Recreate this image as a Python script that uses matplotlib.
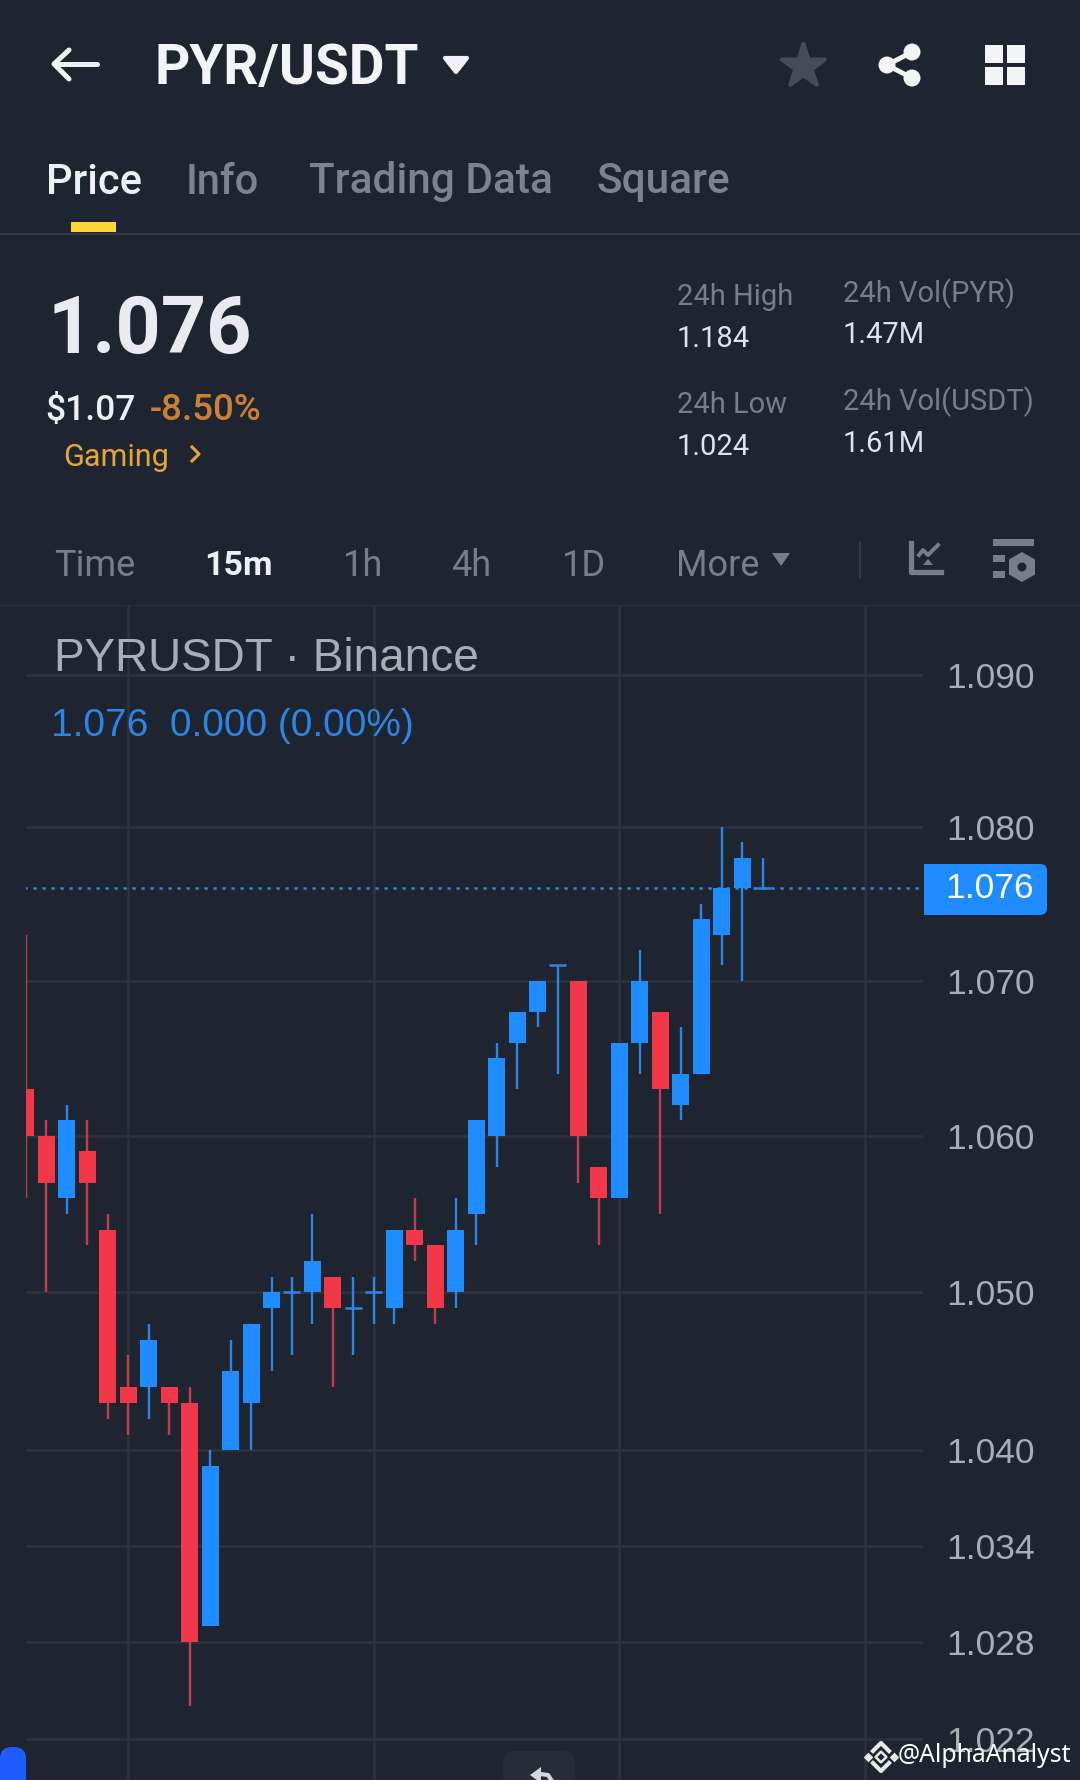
import numpy as np
import matplotlib
matplotlib.use("Agg")
import matplotlib.pyplot as plt
from matplotlib.patches import Polygon, Rectangle, Circle, FancyBboxPatch, RegularPolygon

# candles, oldest first (15m PYR/USDT)
opens = [1.063, 1.060, 1.056, 1.059, 1.054, 1.044, 1.044, 1.044, 1.043, 1.029,
         1.040, 1.043, 1.049, 1.050, 1.050, 1.051, 1.049, 1.050, 1.049, 1.054,
         1.053, 1.050, 1.055, 1.060, 1.066, 1.068, 1.071, 1.070, 1.058, 1.056,
         1.066, 1.068, 1.062, 1.064, 1.073, 1.076, 1.076]
highs = [1.073, 1.061, 1.062, 1.061, 1.055, 1.046, 1.048, 1.044, 1.044, 1.040,
         1.047, 1.048, 1.051, 1.051, 1.055, 1.051, 1.051, 1.051, 1.054, 1.056,
         1.053, 1.056, 1.061, 1.066, 1.068, 1.070, 1.071, 1.070, 1.058, 1.066,
         1.072, 1.068, 1.067, 1.075, 1.080, 1.079, 1.078]
lows = [1.056, 1.050, 1.055, 1.053, 1.042, 1.041, 1.042, 1.041, 1.024, 1.029,
        1.040, 1.040, 1.045, 1.046, 1.048, 1.044, 1.046, 1.048, 1.048, 1.052,
        1.048, 1.049, 1.053, 1.058, 1.063, 1.067, 1.064, 1.057, 1.053, 1.056,
        1.064, 1.055, 1.061, 1.064, 1.071, 1.070, 1.076]
closes = [1.060, 1.057, 1.061, 1.057, 1.043, 1.043, 1.047, 1.043, 1.028, 1.039,
          1.045, 1.048, 1.050, 1.050, 1.052, 1.049, 1.049, 1.050, 1.054, 1.053,
          1.049, 1.054, 1.061, 1.065, 1.068, 1.070, 1.071, 1.060, 1.056, 1.066,
          1.070, 1.063, 1.064, 1.074, 1.076, 1.078, 1.076]
price_ticks = [1.022, 1.028, 1.034, 1.040, 1.050, 1.060, 1.070, 1.080, 1.090]
price_labels = ["1.022", "1.028", "1.034", "1.040", "1.050", "1.060", "1.070", "1.080", "1.090"]
time_grid = [5, 17, 29, 41]
last_price = 1.076

BG = "#1e2530"
GRID = "#2d333d"
UP = "#1e8cff"
DOWN = "#f23749"
UP_WICK = "#2c85e4"
DOWN_WICK = "#c23c50"
W, H = 1080, 1780
UI = ["Roboto", "DejaVu Sans"]
CHART = ["Liberation Sans", "DejaVu Sans"]

fig = plt.figure(figsize=(W / 100, H / 100), dpi=100, facecolor=BG)


def px_axes(left, top, right, bottom):
    return fig.add_axes([left / W, 1 - bottom / H, (right - left) / W, (bottom - top) / H])


# Chart area
# ==========
ax = px_axes(26, 606, 923, 1780)
ax.set_facecolor("none")
ax.set_yscale("log")
x = np.arange(len(opens))
o, h, l, c = map(np.asarray, (opens, highs, lows, closes))
up = c >= o
ax.grid(True, color=GRID, lw=1.8, zorder=0)
ax.set_axisbelow(True)
ax.vlines(x[up], l[up], h[up], color=UP_WICK, lw=1.7, zorder=3)
ax.vlines(x[~up], l[~up], h[~up], color=DOWN_WICK, lw=1.7, zorder=3)
ax.bar(x[up], np.abs(c - o)[up], bottom=np.minimum(o, c)[up], width=0.83, color=UP, zorder=4)
ax.bar(x[~up], np.abs(c - o)[~up], bottom=np.minimum(o, c)[~up], width=0.83, color=DOWN, zorder=4)
doji = c == o
ax.hlines(c[doji], x[doji] - 0.415, x[doji] + 0.415, color=UP_WICK, lw=1.8, zorder=4)
ax.plot([-1, 43.84], [last_price, last_price], color=UP_WICK, lw=1.8,
        linestyle=(0, (1.3, 2.3)), zorder=2)
ax.set_xlim(0, 43.84)
ax.set_ylim(1.01945, 1.09456)
ax.set_xticks(time_grid)
ax.set_yticks(price_ticks, price_labels)
ax.minorticks_off()
ax.yaxis.tick_right()
ax.tick_params(axis="x", length=0, labelbottom=False)
ax.tick_params(axis="y", length=0, pad=17, labelsize=25.5, labelcolor="#a9aeb5")
for lab in ax.get_yticklabels():
    lab.set_family(CHART)
for s in ax.spines.values():
    s.set_visible(False)

# Everything around the chart is laid out in pixels
# =================================================
ov = px_axes(0, 0, W, H)
ov.set_xlim(0, W)
ov.set_ylim(H, 0)
ov.axis("off")
ov.patch.set_alpha(0)


def txt(px, py, s, size, color, weight="normal", family=UI, ha="left", zorder=6):
    ov.text(px, py, s, fontsize=size, color=color, fontweight=weight, family=family,
            ha=ha, va="center", zorder=zorder)


# top bar
ov.plot([56, 97], [64, 64], color="#f0f1f4", lw=3.6, solid_capstyle="round")
ov.plot([69, 54, 69], [50, 64, 79], color="#f0f1f4", lw=3.6, solid_capstyle="round",
        solid_joinstyle="round")
txt(154, 69, "PYR/USDT", 39.5, "#f3f4f6", "bold")
ov.add_patch(Polygon([[445, 58], [467, 58], [456, 72]], closed=True, facecolor="#f0f1f4",
                     edgecolor="#f0f1f4", lw=3, joinstyle="round"))
ov.scatter([803], [66], marker="*", s=1050, color="#454c59", edgecolor="#454c59", lw=3,
           joinstyle="round")
share = "#f3f4f6"
ov.plot([912, 887, 912], [52, 65, 78], color=share, lw=3.5)
for cx, cy in [(912, 52), (887, 65), (912, 78)]:
    ov.add_patch(Circle((cx, cy), 8.5, color=share, lw=0))
for rx, ry in [(985, 45), (1007, 45), (985, 67), (1007, 67)]:
    ov.add_patch(Rectangle((rx, ry), 18, 18, color=share, lw=0))

# tabs
txt(46, 182, "Price", 30, "#eef0f3", "medium")
txt(186, 182, "Info", 30, "#7d838d", "medium")
txt(309, 182, "Trading Data", 30.5, "#7d838d", "medium")
txt(597, 182, "Square", 30.5, "#7d838d", "medium")
ov.add_patch(Rectangle((71, 222), 45, 10, color="#fcd535", lw=0))
ov.add_patch(Rectangle((0, 232.5), W, 2, color="#333a45", lw=0))

# price block
txt(48, 331, "1.076", 57, "#e9ebf1", "bold")
txt(45, 411, "$1.07", 25.5, "#eef0f3", "medium")
txt(150, 411, "-8.50%", 26.5, "#c98137", "medium")
txt(63, 457, "Gaming", 22, "#e3a63a")
ov.plot([192, 199, 192], [447, 454, 461], color="#e3a63a", lw=2.2)

# 24h stats
muted = "#787e88"
light = "#e0e3e8"
txt(677, 297, "24h High", 21, muted)
txt(677, 339, "1.184", 21, light)
txt(677, 405, "24h Low", 21, muted)
txt(677, 447, "1.024", 21, light)
txt(843, 294, "24h Vol(PYR)", 21, muted)
txt(843, 335, "1.47M", 21, light)
txt(843, 402, "24h Vol(USDT)", 21, muted)
txt(843, 444, "1.61M", 21, light)

# interval row
txt(54, 566, "Time", 26, muted)
txt(204, 566, "15m", 24.5, "#eef0f3", "bold")
txt(343, 566, "1h", 26, muted)
txt(451, 566, "4h", 26, muted)
txt(562, 566, "1D", 26, muted)
txt(676, 566, "More", 26, muted)
ov.add_patch(Polygon([[772, 553], [790, 553], [781, 566]], closed=True, color=muted, lw=0))
ov.plot([860, 860], [542, 577], color="#333a45", lw=1.5)
ov.plot([911, 911, 941], [543, 572, 572], color=muted, lw=3.8)
ov.plot([919, 923, 928, 938], [555, 550, 555, 545], color=muted, lw=2.8)
ov.add_patch(Polygon([[923, 565], [933, 565], [928, 559]], closed=True, color=muted, lw=0))
ov.add_patch(Rectangle((993, 539), 41, 7, color=muted, lw=0))
ov.add_patch(Rectangle((993, 555), 12, 7, color=muted, lw=0))
ov.add_patch(Rectangle((993, 571), 12, 7, color=muted, lw=0))
ov.add_patch(RegularPolygon((1022, 567), 6, radius=15, color=muted, lw=0))
ov.add_patch(Circle((1022, 567), 4.5, color=BG, lw=0))
ov.add_patch(Rectangle((0, 604.5), W, 1.5, color="#2a303a", lw=0))

# chart legend and last price tag
txt(54, 659, "PYRUSDT \u00b7 Binance", 33, "#a9aeb5", family=CHART)
txt(51, 726, "1.076  0.000 (0.00%)", 28, "#2c85e4", family=CHART)
ov.add_patch(FancyBboxPatch((960, 864), 87, 51, boxstyle="round,pad=0,rounding_size=7",
                            mutation_scale=1, color=UP, lw=0))
ov.add_patch(Rectangle((924, 864), 50, 51, color=UP, lw=0))
txt(989, 889, "1.076", 25.5, "white", family=CHART, ha="center")

# bottom edge
ov.add_patch(FancyBboxPatch((0, 1747), 26, 60, boxstyle="round,pad=0,rounding_size=12",
                            mutation_scale=1, color="#1f5cff", lw=0))
ov.add_patch(FancyBboxPatch((503, 1751), 72, 60, boxstyle="round,pad=0,rounding_size=12",
                            mutation_scale=1, color="#272d37", lw=0, zorder=5))
ov.add_patch(Polygon([[541, 1767], [530, 1775], [541, 1783]], closed=True, color="#d5d8dd",
                     lw=0, zorder=6))
ov.plot([540, 548, 552], [1774, 1775, 1781], color="#d5d8dd", lw=3, zorder=6)

# watermark
mark = "#e9e9e9"
ov.scatter([868, 894], [1757, 1757], marker="D", s=24, color=mark, lw=0, zorder=9)
ov.scatter([881], [1757], marker="D", s=30, facecolor="none", edgecolor=mark, lw=1.8, zorder=9)
ov.plot([873, 881, 889], [1751, 1743, 1751], color=mark, lw=3, zorder=9)
ov.plot([873, 881, 889], [1763, 1771, 1763], color=mark, lw=3, zorder=9)
txt(898, 1756, "@AlphaAnalyst", 17.8, "white", family=["Noto Sans", "DejaVu Sans"], zorder=9)
ov.patch.set_visible(False)

fig.savefig("out.png", dpi=100, facecolor=BG)
